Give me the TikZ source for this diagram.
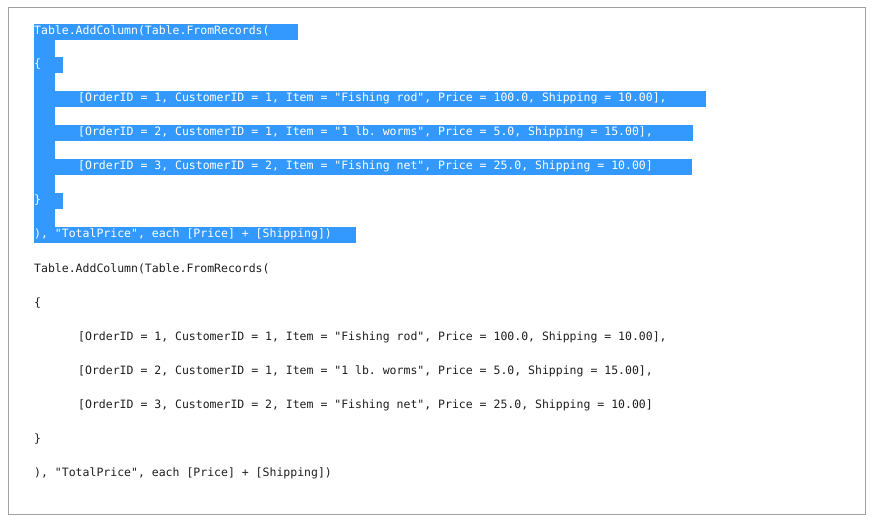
\documentclass[tikz,border=0pt]{standalone}
\usepackage{fontspec}
\setmonofont{DejaVu Sans Mono}
\definecolor{sel}{HTML}{3399FF}
\definecolor{frame}{HTML}{A0A0A0}
\definecolor{code}{HTML}{1E1E1E}
\begin{document}
\begin{tikzpicture}[x=1pt,y=-1pt,
  codeline/.style={anchor=mid west,inner sep=0pt,font=\ttfamily\fontsize{11.5}{12}\selectfont,text=code},
  selline/.style={codeline,text=white}]
\useasboundingbox (0,0) rectangle (872,523);
\draw[frame] (8,7) rectangle (865,514);
% selection
\fill[sel] (34,24) rectangle (298,40);
\fill[sel] (34,40) rectangle (55,243);
\fill[sel] (34,57) rectangle (63,73);
\fill[sel] (55,91) rectangle (706,107);
\fill[sel] (55,125) rectangle (693,141);
\fill[sel] (55,159) rectangle (692,175);
\fill[sel] (34,193) rectangle (63,209);
\fill[sel] (34,227) rectangle (356,243);
\node[selline] (s1) at (34,32) {Table.AddColumn(Table.FromRecords(};
\node[selline] (s2) at (34,65) {\{};
\node[selline] (s3) at (78,99) {[OrderID = 1, CustomerID = 1, Item = "Fishing rod", Price = 100.0, Shipping = 10.00],};
\node[selline] (s4) at (78,133) {[OrderID = 2, CustomerID = 1, Item = "1 lb. worms", Price = 5.0, Shipping = 15.00],};
\node[selline] (s5) at (78,167) {[OrderID = 3, CustomerID = 2, Item = "Fishing net", Price = 25.0, Shipping = 10.00]};
\node[selline] (s6) at (34,201) {\}};
\node[selline] (s7) at (34,235) {), "TotalPrice", each [Price] + [Shipping])};
\node[codeline] (c1) at (34,270) {Table.AddColumn(Table.FromRecords(};
\node[codeline] (c2) at (34,304) {\{};
\node[codeline] (c3) at (78,338) {[OrderID = 1, CustomerID = 1, Item = "Fishing rod", Price = 100.0, Shipping = 10.00],};
\node[codeline] (c4) at (78,372) {[OrderID = 2, CustomerID = 1, Item = "1 lb. worms", Price = 5.0, Shipping = 15.00],};
\node[codeline] (c5) at (78,406) {[OrderID = 3, CustomerID = 2, Item = "Fishing net", Price = 25.0, Shipping = 10.00]};
\node[codeline] (c6) at (34,440) {\}};
\node[codeline] (c7) at (34,474) {), "TotalPrice", each [Price] + [Shipping])};
\end{tikzpicture}
\end{document}
